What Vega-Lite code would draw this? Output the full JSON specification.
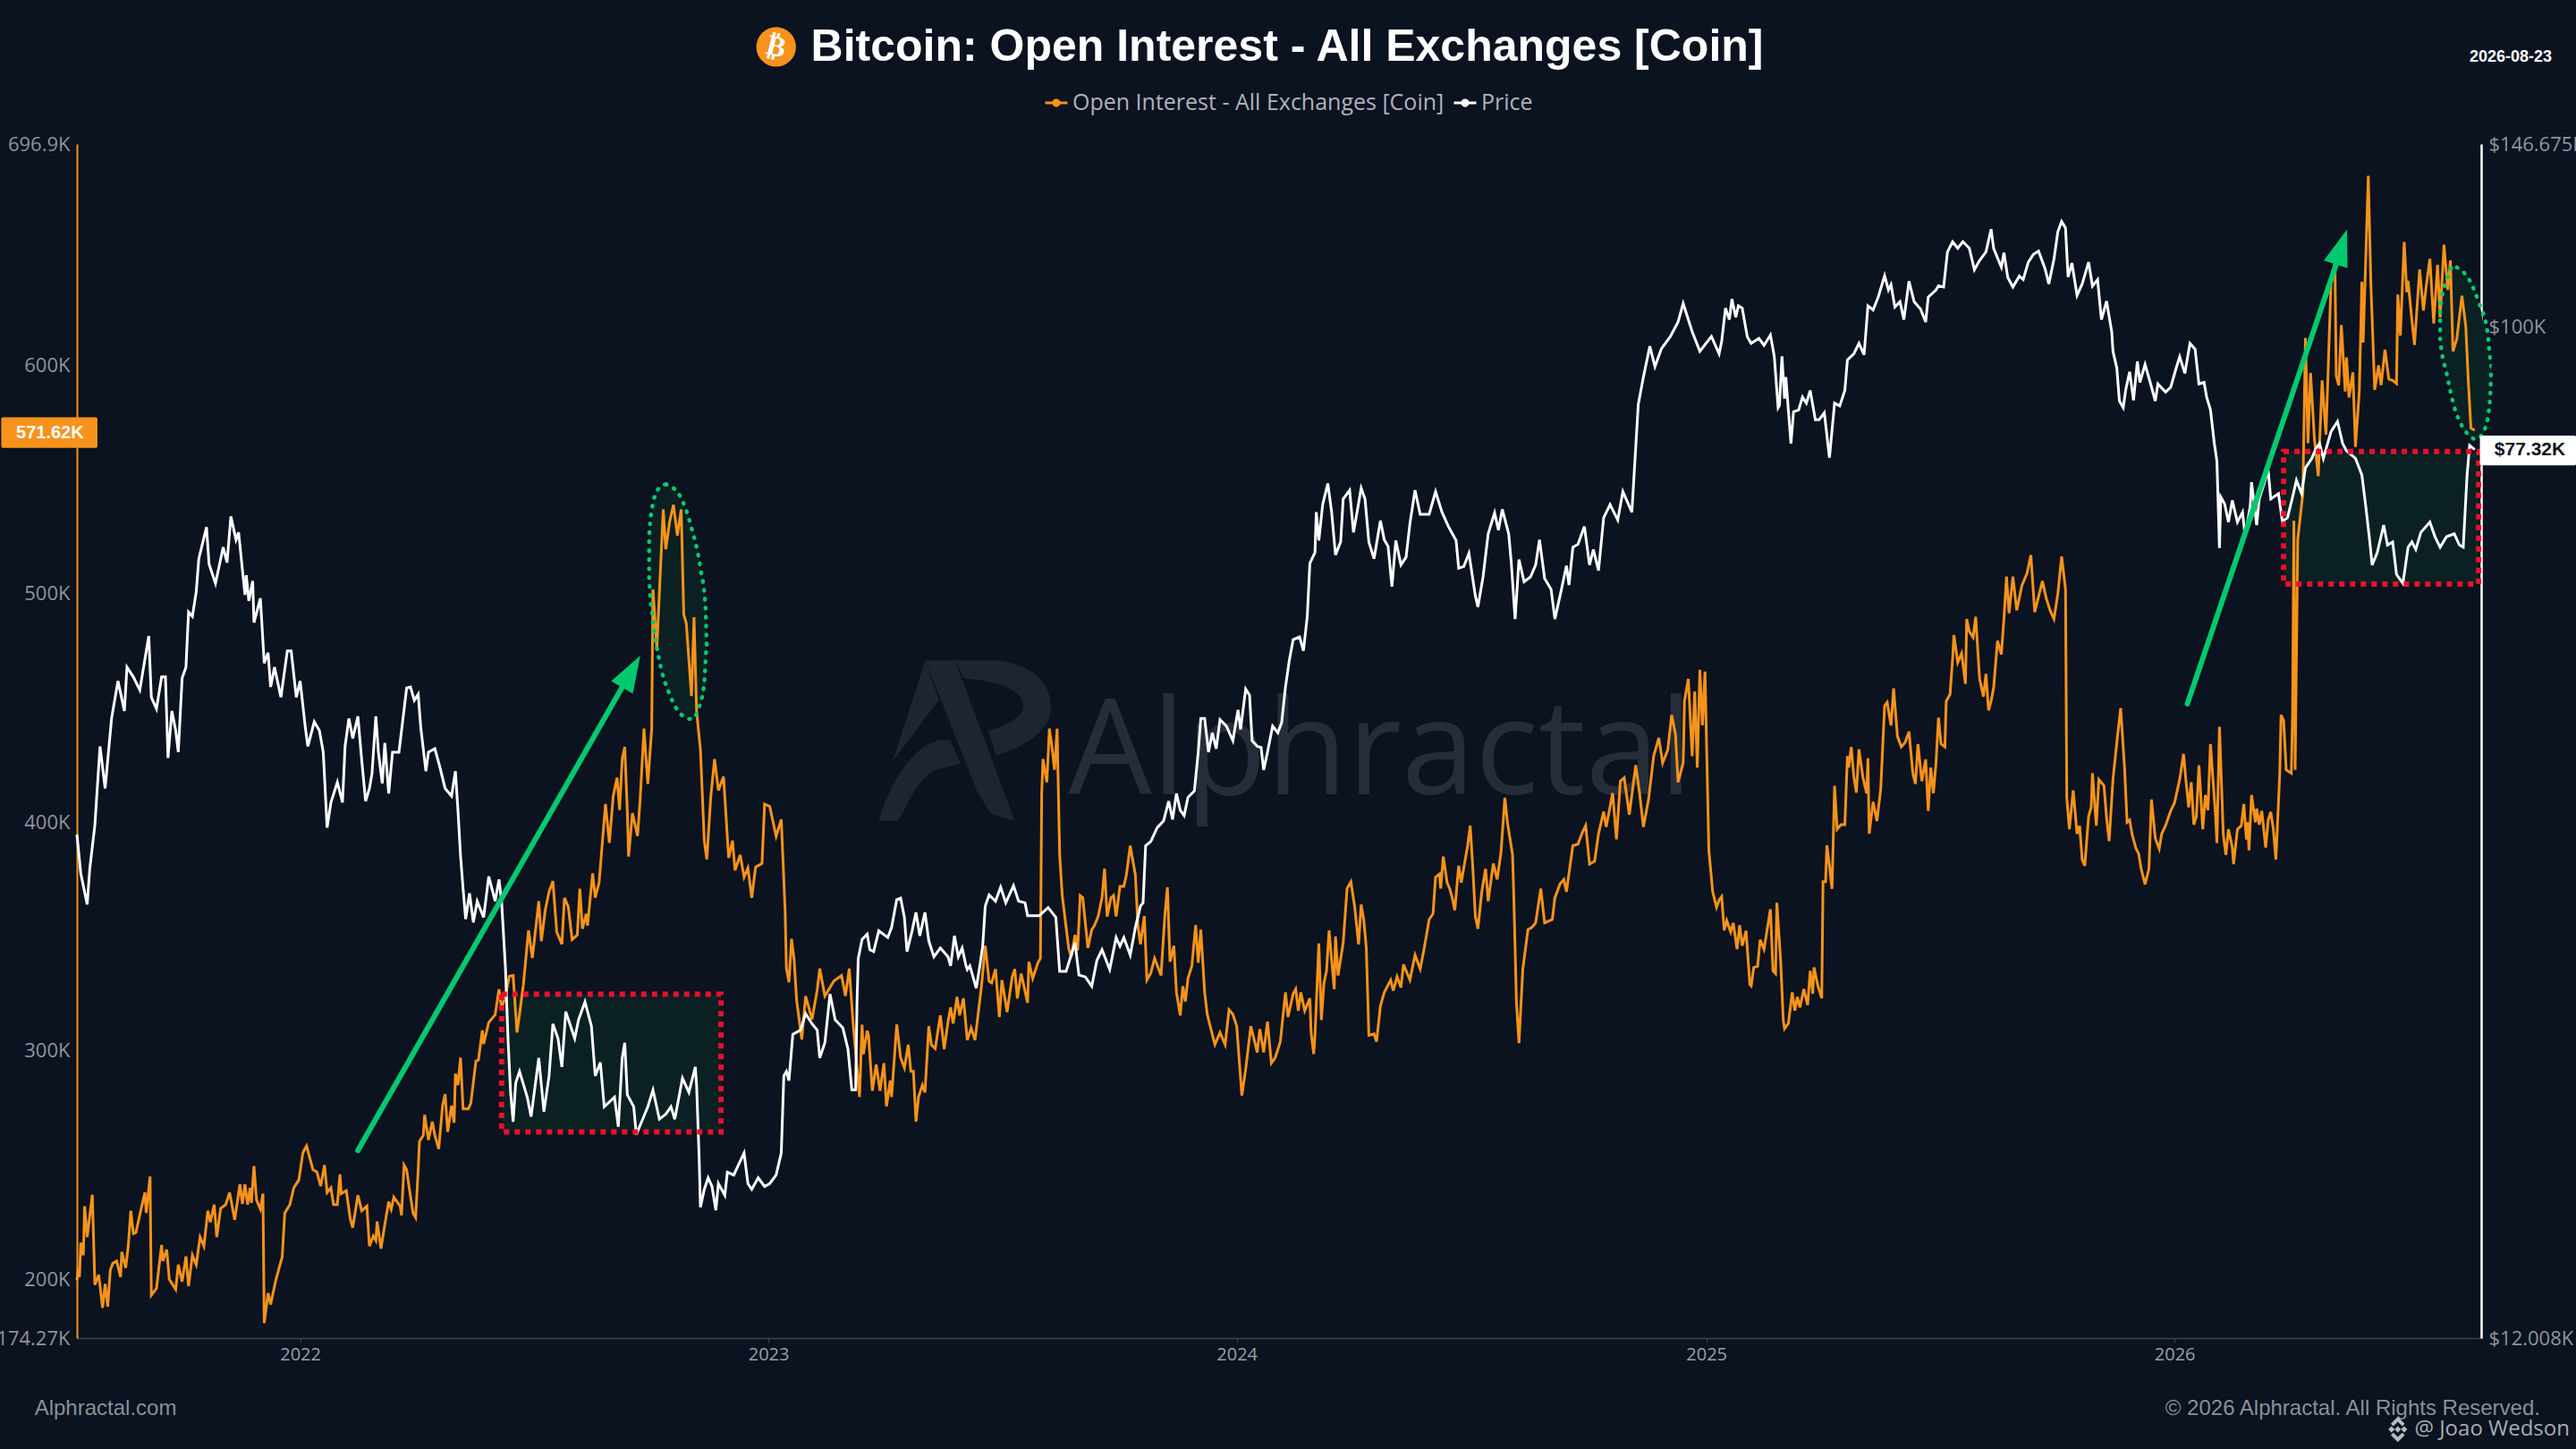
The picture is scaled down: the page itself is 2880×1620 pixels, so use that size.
{"$schema":"https://vega.github.io/schema/vega-lite/v6.json","width":2688,"height":1335,"autosize":{"type":"none"},"padding":{"left":86,"top":161,"right":106,"bottom":124},"background":"#0b1220","view":{"stroke":null},
"title":{"text":"Bitcoin: Open Interest - All Exchanges [Coin]","font":"Liberation Sans","fontWeight":"bold","fontSize":50,"color":"#ffffff","anchor":"middle","frame":"group","dx":9,"offset":-88,"baseline":"alphabetic"},
"datasets":{
"oi":[{"d":"2021-07-11","v":199.6},{"d":"2021-07-12","v":205},{"d":"2021-07-13","v":201},{"d":"2021-07-14","v":216},{"d":"2021-07-16","v":210.5},{"d":"2021-07-17","v":232},{"d":"2021-07-19","v":218.5},{"d":"2021-07-23","v":237},{"d":"2021-07-25","v":197.6},{"d":"2021-07-28","v":202},{"d":"2021-07-31","v":187.5},{"d":"2021-08-02","v":198},{"d":"2021-08-04","v":188},{"d":"2021-08-06","v":204},{"d":"2021-08-08","v":207},{"d":"2021-08-11","v":208},{"d":"2021-08-14","v":201},{"d":"2021-08-15","v":212},{"d":"2021-08-18","v":205},{"d":"2021-08-20","v":214.5},{"d":"2021-08-22","v":230},{"d":"2021-08-24","v":220},{"d":"2021-08-26","v":220.5},{"d":"2021-08-30","v":230.7},{"d":"2021-09-02","v":238},{"d":"2021-09-03","v":229},{"d":"2021-09-06","v":245},{"d":"2021-09-07","v":193},{"d":"2021-09-11","v":196},{"d":"2021-09-15","v":215},{"d":"2021-09-16","v":208},{"d":"2021-09-19","v":213},{"d":"2021-09-21","v":200},{"d":"2021-09-26","v":195.6},{"d":"2021-09-28","v":206.4},{"d":"2021-10-01","v":199},{"d":"2021-10-04","v":210},{"d":"2021-10-06","v":197},{"d":"2021-10-09","v":210.5},{"d":"2021-10-12","v":206.4},{"d":"2021-10-15","v":218.5},{"d":"2021-10-18","v":214.5},{"d":"2021-10-21","v":230},{"d":"2021-10-23","v":225},{"d":"2021-10-26","v":232.7},{"d":"2021-10-28","v":218.5},{"d":"2021-10-31","v":231},{"d":"2021-11-04","v":232.7},{"d":"2021-11-07","v":238},{"d":"2021-11-11","v":226},{"d":"2021-11-15","v":241.5},{"d":"2021-11-17","v":233},{"d":"2021-11-19","v":241.5},{"d":"2021-11-21","v":232.7},{"d":"2021-11-23","v":240},{"d":"2021-11-24","v":233.4},{"d":"2021-11-26","v":249.6},{"d":"2021-11-28","v":234.7},{"d":"2021-12-01","v":230.7},{"d":"2021-12-03","v":237.5},{"d":"2021-12-04","v":180.8},{"d":"2021-12-07","v":194},{"d":"2021-12-09","v":189},{"d":"2021-12-13","v":199.6},{"d":"2021-12-16","v":205.7},{"d":"2021-12-18","v":209.8},{"d":"2021-12-20","v":229},{"d":"2021-12-24","v":232.7},{"d":"2021-12-27","v":240},{"d":"2021-12-31","v":243.5},{"d":"2022-01-03","v":255},{"d":"2022-01-04","v":256.4},{"d":"2022-01-06","v":258.4},{"d":"2022-01-09","v":252},{"d":"2022-01-11","v":248},{"d":"2022-01-14","v":247},{"d":"2022-01-17","v":240.8},{"d":"2022-01-20","v":250},{"d":"2022-01-22","v":238},{"d":"2022-01-25","v":240},{"d":"2022-01-27","v":232.7},{"d":"2022-01-30","v":232.7},{"d":"2022-02-01","v":246},{"d":"2022-02-02","v":237.5},{"d":"2022-02-06","v":238.8},{"d":"2022-02-09","v":226.6},{"d":"2022-02-11","v":222.6},{"d":"2022-02-15","v":236.8},{"d":"2022-02-18","v":230},{"d":"2022-02-22","v":232},{"d":"2022-02-24","v":214.5},{"d":"2022-02-27","v":219},{"d":"2022-03-01","v":217},{"d":"2022-03-02","v":225.3},{"d":"2022-03-05","v":213.4},{"d":"2022-03-08","v":224},{"d":"2022-03-11","v":234},{"d":"2022-03-13","v":230.7},{"d":"2022-03-15","v":236},{"d":"2022-03-20","v":232},{"d":"2022-03-21","v":228},{"d":"2022-03-23","v":250},{"d":"2022-03-25","v":248},{"d":"2022-03-27","v":240},{"d":"2022-03-30","v":229},{"d":"2022-04-01","v":227},{"d":"2022-04-03","v":248},{"d":"2022-04-04","v":260.4},{"d":"2022-04-07","v":263},{"d":"2022-04-08","v":272},{"d":"2022-04-11","v":261},{"d":"2022-04-14","v":269},{"d":"2022-04-16","v":263},{"d":"2022-04-19","v":257},{"d":"2022-04-22","v":276},{"d":"2022-04-24","v":281},{"d":"2022-04-26","v":264.5},{"d":"2022-04-29","v":276},{"d":"2022-05-01","v":268.5},{"d":"2022-05-02","v":290},{"d":"2022-05-04","v":285},{"d":"2022-05-06","v":297},{"d":"2022-05-08","v":274.6},{"d":"2022-05-12","v":274.6},{"d":"2022-05-14","v":277},{"d":"2022-05-18","v":295.5},{"d":"2022-05-20","v":296},{"d":"2022-05-23","v":309},{"d":"2022-05-24","v":303},{"d":"2022-05-28","v":312.4},{"d":"2022-06-02","v":315.8},{"d":"2022-06-05","v":327},{"d":"2022-06-07","v":318.5},{"d":"2022-06-10","v":324},{"d":"2022-06-13","v":332.6},{"d":"2022-06-16","v":333},{"d":"2022-06-19","v":308},{"d":"2022-06-21","v":316},{"d":"2022-06-24","v":329},{"d":"2022-06-28","v":352.7},{"d":"2022-07-01","v":340.6},{"d":"2022-07-06","v":365.5},{"d":"2022-07-08","v":348},{"d":"2022-07-11","v":361.5},{"d":"2022-07-14","v":369.6},{"d":"2022-07-17","v":374.3},{"d":"2022-07-20","v":352},{"d":"2022-07-24","v":346.7},{"d":"2022-07-26","v":366.9},{"d":"2022-07-29","v":363},{"d":"2022-08-01","v":348.7},{"d":"2022-08-05","v":350.7},{"d":"2022-08-07","v":371},{"d":"2022-08-09","v":353.4},{"d":"2022-08-12","v":360},{"d":"2022-08-13","v":354.8},{"d":"2022-08-17","v":377.7},{"d":"2022-08-19","v":367},{"d":"2022-08-22","v":373.6},{"d":"2022-08-27","v":408},{"d":"2022-08-30","v":391},{"d":"2022-09-02","v":411.4},{"d":"2022-09-05","v":419.6},{"d":"2022-09-07","v":405.4},{"d":"2022-09-09","v":427.7},{"d":"2022-09-11","v":433},{"d":"2022-09-13","v":405},{"d":"2022-09-14","v":385},{"d":"2022-09-17","v":404},{"d":"2022-09-21","v":394},{"d":"2022-09-23","v":410},{"d":"2022-09-26","v":441},{"d":"2022-09-29","v":416.8},{"d":"2022-10-02","v":441},{"d":"2022-10-03","v":502},{"d":"2022-10-06","v":476},{"d":"2022-10-11","v":537},{"d":"2022-10-13","v":519.5},{"d":"2022-10-16","v":531.6},{"d":"2022-10-19","v":539},{"d":"2022-10-22","v":525.5},{"d":"2022-10-25","v":537},{"d":"2022-10-27","v":491},{"d":"2022-10-29","v":487},{"d":"2022-11-02","v":455.3},{"d":"2022-11-04","v":489.8},{"d":"2022-11-06","v":448.6},{"d":"2022-11-09","v":431.7},{"d":"2022-11-12","v":391.9},{"d":"2022-11-14","v":383.8},{"d":"2022-11-17","v":410.8},{"d":"2022-11-20","v":427.7},{"d":"2022-11-23","v":414},{"d":"2022-11-27","v":420},{"d":"2022-12-01","v":384.4},{"d":"2022-12-04","v":392},{"d":"2022-12-06","v":379},{"d":"2022-12-10","v":385.8},{"d":"2022-12-13","v":376},{"d":"2022-12-16","v":380},{"d":"2022-12-19","v":367},{"d":"2022-12-22","v":380.4},{"d":"2022-12-27","v":382},{"d":"2022-12-29","v":408},{"d":"2023-01-02","v":407},{"d":"2023-01-07","v":393.9},{"d":"2023-01-11","v":401.3},{"d":"2023-01-14","v":361.5},{"d":"2023-01-15","v":336},{"d":"2023-01-17","v":330},{"d":"2023-01-19","v":349},{"d":"2023-01-21","v":340},{"d":"2023-01-23","v":322},{"d":"2023-01-27","v":305},{"d":"2023-01-30","v":324},{"d":"2023-02-04","v":313.7},{"d":"2023-02-08","v":326.6},{"d":"2023-02-10","v":336},{"d":"2023-02-14","v":324},{"d":"2023-02-21","v":330.6},{"d":"2023-02-27","v":333},{"d":"2023-03-02","v":324},{"d":"2023-03-05","v":336},{"d":"2023-03-08","v":312},{"d":"2023-03-13","v":279.8},{"d":"2023-03-15","v":311.5},{"d":"2023-03-16","v":298.6},{"d":"2023-03-19","v":308.8},{"d":"2023-03-20","v":306.8},{"d":"2023-03-23","v":282.5},{"d":"2023-03-26","v":294},{"d":"2023-03-29","v":282.5},{"d":"2023-04-01","v":294.6},{"d":"2023-04-03","v":275.7},{"d":"2023-04-06","v":287},{"d":"2023-04-07","v":279.8},{"d":"2023-04-11","v":311.5},{"d":"2023-04-14","v":297},{"d":"2023-04-17","v":292.6},{"d":"2023-04-20","v":302.7},{"d":"2023-04-22","v":291},{"d":"2023-04-24","v":291},{"d":"2023-04-26","v":269},{"d":"2023-04-28","v":279.8},{"d":"2023-05-01","v":285},{"d":"2023-05-03","v":281.8},{"d":"2023-05-06","v":310.8},{"d":"2023-05-08","v":302.7},{"d":"2023-05-11","v":301},{"d":"2023-05-14","v":312},{"d":"2023-05-15","v":315.5},{"d":"2023-05-18","v":300.7},{"d":"2023-05-21","v":312.8},{"d":"2023-05-23","v":319},{"d":"2023-05-25","v":312},{"d":"2023-05-28","v":323.6},{"d":"2023-05-30","v":315.5},{"d":"2023-06-02","v":323},{"d":"2023-06-05","v":304.7},{"d":"2023-06-08","v":310},{"d":"2023-06-11","v":304.7},{"d":"2023-06-16","v":328},{"d":"2023-06-19","v":346},{"d":"2023-06-22","v":330.4},{"d":"2023-06-24","v":329.7},{"d":"2023-06-27","v":335.8},{"d":"2023-06-30","v":314.8},{"d":"2023-07-02","v":331},{"d":"2023-07-06","v":317},{"d":"2023-07-10","v":332.4},{"d":"2023-07-12","v":335.8},{"d":"2023-07-14","v":322.9},{"d":"2023-07-17","v":333.8},{"d":"2023-07-22","v":321},{"d":"2023-07-23","v":339},{"d":"2023-07-26","v":331.7},{"d":"2023-07-30","v":338.5},{"d":"2023-08-01","v":340.5},{"d":"2023-08-02","v":412.8},{"d":"2023-08-03","v":427.7},{"d":"2023-08-06","v":417.5},{"d":"2023-08-08","v":441},{"d":"2023-08-10","v":433},{"d":"2023-08-12","v":423},{"d":"2023-08-14","v":441},{"d":"2023-08-16","v":385.8},{"d":"2023-08-18","v":368},{"d":"2023-08-20","v":358.8},{"d":"2023-08-23","v":345},{"d":"2023-08-25","v":341},{"d":"2023-08-28","v":350.7},{"d":"2023-08-30","v":344},{"d":"2023-09-01","v":368},{"d":"2023-09-03","v":367},{"d":"2023-09-07","v":345},{"d":"2023-09-10","v":353},{"d":"2023-09-12","v":354.7},{"d":"2023-09-15","v":358.8},{"d":"2023-09-18","v":367},{"d":"2023-09-20","v":379.7},{"d":"2023-09-22","v":358.8},{"d":"2023-09-25","v":367},{"d":"2023-09-27","v":368},{"d":"2023-09-29","v":358.8},{"d":"2023-10-02","v":372},{"d":"2023-10-05","v":372},{"d":"2023-10-07","v":377},{"d":"2023-10-10","v":389.8},{"d":"2023-10-14","v":377},{"d":"2023-10-16","v":354.7},{"d":"2023-10-18","v":346.6},{"d":"2023-10-21","v":359},{"d":"2023-10-23","v":331},{"d":"2023-10-26","v":334},{"d":"2023-10-29","v":340.5},{"d":"2023-11-03","v":333},{"d":"2023-11-06","v":359.4},{"d":"2023-11-08","v":371.6},{"d":"2023-11-10","v":339},{"d":"2023-11-13","v":346},{"d":"2023-11-15","v":325.6},{"d":"2023-11-18","v":315.5},{"d":"2023-11-20","v":328.3},{"d":"2023-11-22","v":321.6},{"d":"2023-11-24","v":331.7},{"d":"2023-11-27","v":337},{"d":"2023-11-30","v":355},{"d":"2023-12-02","v":338.5},{"d":"2023-12-04","v":353},{"d":"2023-12-07","v":325.6},{"d":"2023-12-09","v":316},{"d":"2023-12-11","v":311.5},{"d":"2023-12-15","v":302.7},{"d":"2023-12-19","v":308},{"d":"2023-12-23","v":302.7},{"d":"2023-12-26","v":318},{"d":"2023-12-29","v":316},{"d":"2024-01-01","v":310.8},{"d":"2024-01-05","v":280.4},{"d":"2024-01-08","v":292},{"d":"2024-01-12","v":310.8},{"d":"2024-01-17","v":299.3},{"d":"2024-01-19","v":309.5},{"d":"2024-01-22","v":299.3},{"d":"2024-01-25","v":312.8},{"d":"2024-01-28","v":294.6},{"d":"2024-01-31","v":297},{"d":"2024-02-04","v":304},{"d":"2024-02-08","v":325.6},{"d":"2024-02-10","v":314.8},{"d":"2024-02-14","v":325},{"d":"2024-02-16","v":327},{"d":"2024-02-18","v":317.5},{"d":"2024-02-20","v":325.6},{"d":"2024-02-23","v":317.5},{"d":"2024-02-27","v":323},{"d":"2024-02-28","v":308},{"d":"2024-03-01","v":298.6},{"d":"2024-03-02","v":306.8},{"d":"2024-03-05","v":347},{"d":"2024-03-07","v":313.5},{"d":"2024-03-09","v":329.7},{"d":"2024-03-11","v":335},{"d":"2024-03-13","v":352.7},{"d":"2024-03-17","v":327},{"d":"2024-03-18","v":350},{"d":"2024-03-20","v":333},{"d":"2024-03-24","v":347.3},{"d":"2024-03-27","v":371},{"d":"2024-03-30","v":374},{"d":"2024-04-02","v":362.8},{"d":"2024-04-05","v":346.6},{"d":"2024-04-07","v":364},{"d":"2024-04-09","v":357.5},{"d":"2024-04-11","v":345},{"d":"2024-04-13","v":306.8},{"d":"2024-04-17","v":307.4},{"d":"2024-04-19","v":304},{"d":"2024-04-22","v":319.6},{"d":"2024-04-25","v":325.6},{"d":"2024-04-30","v":331},{"d":"2024-05-02","v":326.3},{"d":"2024-05-05","v":332.4},{"d":"2024-05-08","v":327.7},{"d":"2024-05-10","v":337.8},{"d":"2024-05-15","v":331},{"d":"2024-05-19","v":341.9},{"d":"2024-05-23","v":335.8},{"d":"2024-05-26","v":344.5},{"d":"2024-05-30","v":357.5},{"d":"2024-06-02","v":360},{"d":"2024-06-04","v":376},{"d":"2024-06-07","v":377.4},{"d":"2024-06-08","v":371},{"d":"2024-06-10","v":385},{"d":"2024-06-13","v":373.6},{"d":"2024-06-15","v":371},{"d":"2024-06-17","v":367},{"d":"2024-06-19","v":361.5},{"d":"2024-06-22","v":381},{"d":"2024-06-24","v":373.6},{"d":"2024-06-29","v":389.8},{"d":"2024-07-01","v":398.6},{"d":"2024-07-03","v":380.4},{"d":"2024-07-05","v":358.8},{"d":"2024-07-07","v":353.4},{"d":"2024-07-10","v":369.6},{"d":"2024-07-13","v":379.7},{"d":"2024-07-15","v":365.5},{"d":"2024-07-19","v":382},{"d":"2024-07-22","v":375},{"d":"2024-07-25","v":387},{"d":"2024-07-28","v":410.8},{"d":"2024-07-30","v":400},{"d":"2024-08-03","v":385.8},{"d":"2024-08-04","v":367},{"d":"2024-08-06","v":321.6},{"d":"2024-08-08","v":303.4},{"d":"2024-08-11","v":335.8},{"d":"2024-08-15","v":353},{"d":"2024-08-18","v":354},{"d":"2024-08-21","v":356},{"d":"2024-08-25","v":371},{"d":"2024-08-28","v":356},{"d":"2024-09-03","v":357.5},{"d":"2024-09-05","v":367},{"d":"2024-09-09","v":373},{"d":"2024-09-12","v":375},{"d":"2024-09-14","v":369.6},{"d":"2024-09-16","v":377.7},{"d":"2024-09-19","v":389.8},{"d":"2024-09-23","v":390.5},{"d":"2024-09-26","v":395},{"d":"2024-09-29","v":398.6},{"d":"2024-10-02","v":381.7},{"d":"2024-10-06","v":383},{"d":"2024-10-09","v":395},{"d":"2024-10-13","v":404.7},{"d":"2024-10-15","v":398},{"d":"2024-10-20","v":412.8},{"d":"2024-10-23","v":392.6},{"d":"2024-10-26","v":418},{"d":"2024-10-29","v":419.5},{"d":"2024-11-02","v":403.4},{"d":"2024-11-07","v":425},{"d":"2024-11-10","v":412.8},{"d":"2024-11-13","v":398},{"d":"2024-11-17","v":410},{"d":"2024-11-21","v":429},{"d":"2024-11-25","v":437},{"d":"2024-11-28","v":426},{"d":"2024-12-02","v":431.7},{"d":"2024-12-05","v":447},{"d":"2024-12-08","v":438.4},{"d":"2024-12-10","v":417.5},{"d":"2024-12-14","v":426},{"d":"2024-12-15","v":453},{"d":"2024-12-18","v":462.8},{"d":"2024-12-21","v":429},{"d":"2024-12-23","v":457.3},{"d":"2024-12-25","v":424},{"d":"2024-12-27","v":466.8},{"d":"2024-12-29","v":442.5},{"d":"2024-12-31","v":466},{"d":"2025-01-03","v":387.8},{"d":"2025-01-06","v":369.6},{"d":"2025-01-09","v":362.8},{"d":"2025-01-11","v":366},{"d":"2025-01-13","v":367.5},{"d":"2025-01-15","v":352.7},{"d":"2025-01-17","v":357},{"d":"2025-01-20","v":352},{"d":"2025-01-22","v":356},{"d":"2025-01-25","v":344.5},{"d":"2025-01-27","v":355},{"d":"2025-01-29","v":346},{"d":"2025-02-01","v":352.5},{"d":"2025-02-04","v":329},{"d":"2025-02-05","v":328.4},{"d":"2025-02-07","v":336.5},{"d":"2025-02-10","v":337},{"d":"2025-02-12","v":348.6},{"d":"2025-02-15","v":344.5},{"d":"2025-02-20","v":362},{"d":"2025-02-22","v":335},{"d":"2025-02-24","v":333.8},{"d":"2025-02-25","v":364.8},{"d":"2025-02-28","v":339},{"d":"2025-03-02","v":313.5},{"d":"2025-03-03","v":309.7},{"d":"2025-03-06","v":312},{"d":"2025-03-09","v":325.6},{"d":"2025-03-11","v":317.6},{"d":"2025-03-13","v":323.6},{"d":"2025-03-15","v":319},{"d":"2025-03-18","v":327},{"d":"2025-03-21","v":320},{"d":"2025-03-23","v":335},{"d":"2025-03-25","v":325},{"d":"2025-03-26","v":336.5},{"d":"2025-03-29","v":328.4},{"d":"2025-04-01","v":323},{"d":"2025-04-02","v":374},{"d":"2025-04-04","v":374},{"d":"2025-04-05","v":390},{"d":"2025-04-07","v":381},{"d":"2025-04-09","v":370.9},{"d":"2025-04-11","v":416},{"d":"2025-04-13","v":397},{"d":"2025-04-16","v":399},{"d":"2025-04-19","v":399},{"d":"2025-04-21","v":429},{"d":"2025-04-22","v":424},{"d":"2025-04-24","v":433},{"d":"2025-04-26","v":420},{"d":"2025-04-28","v":413},{"d":"2025-04-30","v":432},{"d":"2025-05-03","v":420},{"d":"2025-05-06","v":412.7},{"d":"2025-05-07","v":428},{"d":"2025-05-08","v":395},{"d":"2025-05-11","v":409},{"d":"2025-05-14","v":400.6},{"d":"2025-05-17","v":414.8},{"d":"2025-05-20","v":451},{"d":"2025-05-22","v":452.5},{"d":"2025-05-25","v":442.4},{"d":"2025-05-27","v":458.6},{"d":"2025-05-30","v":437.7},{"d":"2025-06-02","v":433},{"d":"2025-06-05","v":435},{"d":"2025-06-08","v":439.7},{"d":"2025-06-11","v":421.5},{"d":"2025-06-13","v":416.8},{"d":"2025-06-15","v":434.3},{"d":"2025-06-18","v":418},{"d":"2025-06-21","v":427.6},{"d":"2025-06-23","v":405},{"d":"2025-06-25","v":424},{"d":"2025-06-27","v":412.7},{"d":"2025-06-29","v":425.5},{"d":"2025-07-01","v":445.8},{"d":"2025-07-03","v":434.3},{"d":"2025-07-06","v":433},{"d":"2025-07-07","v":453},{"d":"2025-07-10","v":456},{"d":"2025-07-12","v":471.5},{"d":"2025-07-13","v":482},{"d":"2025-07-16","v":470},{"d":"2025-07-19","v":474},{"d":"2025-07-22","v":460.6},{"d":"2025-07-23","v":489},{"d":"2025-07-25","v":483.6},{"d":"2025-07-28","v":481},{"d":"2025-07-30","v":490},{"d":"2025-08-02","v":463},{"d":"2025-08-05","v":455},{"d":"2025-08-07","v":465},{"d":"2025-08-09","v":449},{"d":"2025-08-11","v":453},{"d":"2025-08-13","v":459},{"d":"2025-08-16","v":479.5},{"d":"2025-08-19","v":473.5},{"d":"2025-08-21","v":489},{"d":"2025-08-23","v":507.6},{"d":"2025-08-25","v":491.5},{"d":"2025-08-28","v":507.6},{"d":"2025-08-31","v":492.8},{"d":"2025-09-04","v":503.6},{"d":"2025-09-08","v":509},{"d":"2025-09-11","v":517},{"d":"2025-09-14","v":492},{"d":"2025-09-20","v":505.6},{"d":"2025-09-23","v":498},{"d":"2025-09-26","v":492.8},{"d":"2025-09-29","v":489},{"d":"2025-10-02","v":500},{"d":"2025-10-05","v":516.4},{"d":"2025-10-08","v":502},{"d":"2025-10-09","v":410.7},{"d":"2025-10-11","v":397},{"d":"2025-10-14","v":414},{"d":"2025-10-17","v":395},{"d":"2025-10-19","v":398.5},{"d":"2025-10-21","v":383.7},{"d":"2025-10-23","v":381},{"d":"2025-10-26","v":402.6},{"d":"2025-10-28","v":406.6},{"d":"2025-10-29","v":421.5},{"d":"2025-11-01","v":398.5},{"d":"2025-11-03","v":418.8},{"d":"2025-11-07","v":416},{"d":"2025-11-09","v":402},{"d":"2025-11-11","v":391.8},{"d":"2025-11-14","v":418.8},{"d":"2025-11-17","v":435},{"d":"2025-11-20","v":450},{"d":"2025-11-23","v":424},{"d":"2025-11-25","v":400},{"d":"2025-11-27","v":401},{"d":"2025-11-29","v":394.5},{"d":"2025-12-02","v":388.4},{"d":"2025-12-04","v":386.4},{"d":"2025-12-06","v":379.6},{"d":"2025-12-09","v":372.9},{"d":"2025-12-12","v":379.6},{"d":"2025-12-14","v":410},{"d":"2025-12-17","v":393},{"d":"2025-12-20","v":388.4},{"d":"2025-12-22","v":395},{"d":"2025-12-25","v":398.6},{"d":"2025-12-29","v":405},{"d":"2026-01-01","v":408.6},{"d":"2026-01-05","v":418.8},{"d":"2026-01-08","v":430},{"d":"2026-01-10","v":417.5},{"d":"2026-01-12","v":406.6},{"d":"2026-01-14","v":417.5},{"d":"2026-01-16","v":399},{"d":"2026-01-18","v":402.6},{"d":"2026-01-20","v":425},{"d":"2026-01-23","v":397},{"d":"2026-01-25","v":412},{"d":"2026-01-27","v":405.3},{"d":"2026-01-29","v":434.3},{"d":"2026-02-02","v":402.6},{"d":"2026-02-03","v":391},{"d":"2026-02-05","v":441.8},{"d":"2026-02-08","v":394.5},{"d":"2026-02-10","v":385.7},{"d":"2026-02-12","v":397},{"d":"2026-02-15","v":389},{"d":"2026-02-16","v":381.7},{"d":"2026-02-19","v":397},{"d":"2026-02-22","v":398.5},{"d":"2026-02-24","v":408},{"d":"2026-02-26","v":392.5},{"d":"2026-02-27","v":400},{"d":"2026-02-28","v":387.8},{"d":"2026-03-02","v":412},{"d":"2026-03-05","v":400},{"d":"2026-03-06","v":406},{"d":"2026-03-08","v":399},{"d":"2026-03-10","v":405},{"d":"2026-03-13","v":389},{"d":"2026-03-15","v":401},{"d":"2026-03-17","v":404.6},{"d":"2026-03-19","v":397},{"d":"2026-03-21","v":383.7},{"d":"2026-03-24","v":421.5},{"d":"2026-03-25","v":447},{"d":"2026-03-27","v":444.5},{"d":"2026-03-29","v":423},{"d":"2026-04-02","v":421.5},{"d":"2026-04-03","v":448},{"d":"2026-04-04","v":532},{"d":"2026-04-05","v":423},{"d":"2026-04-07","v":523.8},{"d":"2026-04-11","v":544},{"d":"2026-04-13","v":612},{"d":"2026-04-15","v":566},{"d":"2026-04-17","v":596.7},{"d":"2026-04-20","v":568},{"d":"2026-04-23","v":551.5},{"d":"2026-04-26","v":593.4},{"d":"2026-04-29","v":569.7},{"d":"2026-05-01","v":602.8},{"d":"2026-05-03","v":637.2},{"d":"2026-05-06","v":645},{"d":"2026-05-07","v":595.4},{"d":"2026-05-09","v":591.3},{"d":"2026-05-11","v":617.7},{"d":"2026-05-14","v":588.6},{"d":"2026-05-15","v":603.5},{"d":"2026-05-17","v":586},{"d":"2026-05-20","v":597},{"d":"2026-05-22","v":564.3},{"d":"2026-05-25","v":588.6},{"d":"2026-05-27","v":636.6},{"d":"2026-05-28","v":610},{"d":"2026-06-01","v":683},{"d":"2026-06-03","v":636},{"d":"2026-06-06","v":589.3},{"d":"2026-06-09","v":600},{"d":"2026-06-11","v":591.4},{"d":"2026-06-14","v":606.9},{"d":"2026-06-17","v":594},{"d":"2026-06-20","v":593.4},{"d":"2026-06-23","v":592},{"d":"2026-06-24","v":631},{"d":"2026-06-26","v":613},{"d":"2026-06-29","v":654},{"d":"2026-07-01","v":632},{"d":"2026-07-02","v":637},{"d":"2026-07-05","v":619.7},{"d":"2026-07-07","v":609},{"d":"2026-07-11","v":642},{"d":"2026-07-14","v":624},{"d":"2026-07-16","v":634},{"d":"2026-07-19","v":646.7},{"d":"2026-07-22","v":618.3},{"d":"2026-07-25","v":644},{"d":"2026-07-27","v":621},{"d":"2026-07-30","v":652.8},{"d":"2026-08-02","v":633},{"d":"2026-08-04","v":646},{"d":"2026-08-06","v":606.2},{"d":"2026-08-09","v":611.6},{"d":"2026-08-13","v":630.5},{"d":"2026-08-16","v":617},{"d":"2026-08-18","v":592.7},{"d":"2026-08-20","v":572.5},{"d":"2026-08-23","v":571.62}],
"price":[{"d":"2021-07-11","v":34.5},{"d":"2021-07-14","v":31.8},{"d":"2021-07-19","v":29.8},{"d":"2021-07-21","v":32.1},{"d":"2021-07-25","v":35.2},{"d":"2021-07-29","v":41.5},{"d":"2021-08-02","v":38},{"d":"2021-08-07","v":44},{"d":"2021-08-12","v":47.6},{"d":"2021-08-17","v":44.7},{"d":"2021-08-19","v":49},{"d":"2021-08-24","v":48},{"d":"2021-08-29","v":46.7},{"d":"2021-09-05","v":52.3},{"d":"2021-09-07","v":46},{"d":"2021-09-11","v":44.9},{"d":"2021-09-15","v":48},{"d":"2021-09-18","v":48},{"d":"2021-09-20","v":40.5},{"d":"2021-09-23","v":44.7},{"d":"2021-09-26","v":42.9},{"d":"2021-09-28","v":41},{"d":"2021-10-01","v":47.9},{"d":"2021-10-04","v":49},{"d":"2021-10-06","v":55},{"d":"2021-10-09","v":54.5},{"d":"2021-10-12","v":57.4},{"d":"2021-10-14","v":61.5},{"d":"2021-10-20","v":65.7},{"d":"2021-10-22","v":60.8},{"d":"2021-10-27","v":58.4},{"d":"2021-11-02","v":63},{"d":"2021-11-05","v":61},{"d":"2021-11-08","v":67.2},{"d":"2021-11-12","v":64},{"d":"2021-11-14","v":65},{"d":"2021-11-19","v":57},{"d":"2021-11-20","v":59.4},{"d":"2021-11-22","v":56.3},{"d":"2021-11-25","v":58.7},{"d":"2021-11-26","v":53.8},{"d":"2021-12-01","v":56.6},{"d":"2021-12-04","v":49.4},{"d":"2021-12-07","v":50.5},{"d":"2021-12-09","v":47},{"d":"2021-12-12","v":49},{"d":"2021-12-17","v":46},{"d":"2021-12-22","v":50.7},{"d":"2021-12-25","v":50.7},{"d":"2021-12-29","v":46},{"d":"2022-01-01","v":47.6},{"d":"2022-01-05","v":43.2},{"d":"2022-01-07","v":41.5},{"d":"2022-01-12","v":43.7},{"d":"2022-01-16","v":42.9},{"d":"2022-01-19","v":41},{"d":"2022-01-22","v":35},{"d":"2022-01-25","v":36.9},{"d":"2022-01-30","v":38.5},{"d":"2022-02-03","v":36.9},{"d":"2022-02-05","v":41.5},{"d":"2022-02-08","v":44},{"d":"2022-02-11","v":42.2},{"d":"2022-02-15","v":44.2},{"d":"2022-02-18","v":40.3},{"d":"2022-02-21","v":37},{"d":"2022-02-24","v":38},{"d":"2022-02-26","v":39.2},{"d":"2022-03-01","v":44.2},{"d":"2022-03-03","v":41},{"d":"2022-03-06","v":38.4},{"d":"2022-03-08","v":41.8},{"d":"2022-03-11","v":37.6},{"d":"2022-03-14","v":41},{"d":"2022-03-19","v":41},{"d":"2022-03-25","v":46.9},{"d":"2022-03-28","v":47},{"d":"2022-03-31","v":45.7},{"d":"2022-04-03","v":46.3},{"d":"2022-04-05","v":43.2},{"d":"2022-04-09","v":39.4},{"d":"2022-04-11","v":41},{"d":"2022-04-16","v":41.3},{"d":"2022-04-20","v":39.7},{"d":"2022-04-24","v":38},{"d":"2022-04-29","v":37.4},{"d":"2022-05-02","v":39.4},{"d":"2022-05-04","v":36.3},{"d":"2022-05-06","v":33},{"d":"2022-05-08","v":30.8},{"d":"2022-05-10","v":28.9},{"d":"2022-05-13","v":30.5},{"d":"2022-05-16","v":28.7},{"d":"2022-05-19","v":30},{"d":"2022-05-24","v":29},{"d":"2022-05-28","v":31.6},{"d":"2022-06-02","v":30},{"d":"2022-06-05","v":31.4},{"d":"2022-06-07","v":30},{"d":"2022-06-10","v":26.1},{"d":"2022-06-12","v":22.5},{"d":"2022-06-14","v":20.1},{"d":"2022-06-16","v":18.9},{"d":"2022-06-18","v":20.5},{"d":"2022-06-21","v":21},{"d":"2022-06-27","v":19.9},{"d":"2022-06-30","v":19.1},{"d":"2022-07-06","v":21.6},{"d":"2022-07-10","v":19.3},{"d":"2022-07-14","v":20.8},{"d":"2022-07-17","v":23.2},{"d":"2022-07-21","v":22.5},{"d":"2022-07-24","v":21.2},{"d":"2022-07-27","v":23.8},{"d":"2022-08-03","v":22.5},{"d":"2022-08-06","v":23.4},{"d":"2022-08-11","v":24.3},{"d":"2022-08-16","v":23.1},{"d":"2022-08-19","v":20.8},{"d":"2022-08-23","v":21.4},{"d":"2022-08-26","v":19.5},{"d":"2022-09-03","v":19.9},{"d":"2022-09-06","v":18.7},{"d":"2022-09-09","v":21.6},{"d":"2022-09-11","v":22.3},{"d":"2022-09-13","v":20},{"d":"2022-09-18","v":19.5},{"d":"2022-09-20","v":18.4},{"d":"2022-09-25","v":19},{"d":"2022-09-29","v":19.5},{"d":"2022-10-03","v":20.2},{"d":"2022-10-08","v":19},{"d":"2022-10-13","v":19.2},{"d":"2022-10-17","v":19.5},{"d":"2022-10-20","v":19},{"d":"2022-10-26","v":20.7},{"d":"2022-10-31","v":20.1},{"d":"2022-11-05","v":21.2},{"d":"2022-11-06","v":20.4},{"d":"2022-11-08","v":17.5},{"d":"2022-11-09","v":15.8},{"d":"2022-11-12","v":16.4},{"d":"2022-11-15","v":16.8},{"d":"2022-11-18","v":16.5},{"d":"2022-11-21","v":15.7},{"d":"2022-11-23","v":16.6},{"d":"2022-11-28","v":16.2},{"d":"2022-11-30","v":17},{"d":"2022-12-05","v":16.9},{"d":"2022-12-07","v":17.1},{"d":"2022-12-13","v":17.7},{"d":"2022-12-16","v":16.6},{"d":"2022-12-19","v":16.4},{"d":"2022-12-24","v":16.8},{"d":"2022-12-29","v":16.5},{"d":"2023-01-02","v":16.6},{"d":"2023-01-07","v":16.9},{"d":"2023-01-11","v":17.7},{"d":"2023-01-13","v":20.8},{"d":"2023-01-15","v":21},{"d":"2023-01-17","v":20.6},{"d":"2023-01-20","v":22.7},{"d":"2023-01-26","v":22.9},{"d":"2023-01-30","v":23.7},{"d":"2023-02-04","v":23.2},{"d":"2023-02-08","v":22.9},{"d":"2023-02-10","v":21.6},{"d":"2023-02-14","v":22.3},{"d":"2023-02-18","v":24.7},{"d":"2023-02-22","v":23.4},{"d":"2023-02-28","v":23},{"d":"2023-03-04","v":22},{"d":"2023-03-07","v":20.2},{"d":"2023-03-10","v":20.2},{"d":"2023-03-11","v":24.2},{"d":"2023-03-12","v":26.6},{"d":"2023-03-15","v":27.7},{"d":"2023-03-19","v":28},{"d":"2023-03-21","v":27.1},{"d":"2023-03-24","v":27},{"d":"2023-03-28","v":28.2},{"d":"2023-04-04","v":27.8},{"d":"2023-04-07","v":28.4},{"d":"2023-04-11","v":30.1},{"d":"2023-04-14","v":30.2},{"d":"2023-04-17","v":29},{"d":"2023-04-19","v":27},{"d":"2023-04-23","v":28.2},{"d":"2023-04-26","v":29.3},{"d":"2023-04-29","v":27.9},{"d":"2023-05-03","v":29.3},{"d":"2023-05-06","v":27.6},{"d":"2023-05-10","v":26.7},{"d":"2023-05-15","v":27.2},{"d":"2023-05-21","v":26.7},{"d":"2023-05-23","v":26.2},{"d":"2023-05-26","v":27.9},{"d":"2023-05-29","v":26.7},{"d":"2023-06-01","v":27.2},{"d":"2023-06-04","v":26.2},{"d":"2023-06-05","v":26},{"d":"2023-06-07","v":26.2},{"d":"2023-06-12","v":25},{"d":"2023-06-15","v":26.3},{"d":"2023-06-17","v":27.3},{"d":"2023-06-19","v":29.7},{"d":"2023-06-22","v":30.4},{"d":"2023-06-27","v":30},{"d":"2023-07-01","v":30.9},{"d":"2023-07-05","v":29.9},{"d":"2023-07-11","v":31},{"d":"2023-07-15","v":30},{"d":"2023-07-20","v":29.9},{"d":"2023-07-22","v":29.1},{"d":"2023-07-31","v":29.1},{"d":"2023-08-07","v":29.6},{"d":"2023-08-13","v":29},{"d":"2023-08-16","v":25.9},{"d":"2023-08-21","v":25.9},{"d":"2023-08-28","v":27.5},{"d":"2023-08-31","v":25.7},{"d":"2023-09-05","v":25.6},{"d":"2023-09-10","v":25.1},{"d":"2023-09-14","v":26.5},{"d":"2023-09-18","v":27.1},{"d":"2023-09-24","v":26},{"d":"2023-09-29","v":27.8},{"d":"2023-10-02","v":27.3},{"d":"2023-10-05","v":27.8},{"d":"2023-10-10","v":26.8},{"d":"2023-10-14","v":28.4},{"d":"2023-10-18","v":29.7},{"d":"2023-10-20","v":29.9},{"d":"2023-10-22","v":33.7},{"d":"2023-10-26","v":34},{"d":"2023-10-31","v":35},{"d":"2023-11-05","v":35.5},{"d":"2023-11-09","v":37},{"d":"2023-11-12","v":35.6},{"d":"2023-11-15","v":37.6},{"d":"2023-11-18","v":36.3},{"d":"2023-11-21","v":35.9},{"d":"2023-11-24","v":37.3},{"d":"2023-11-29","v":37.8},{"d":"2023-12-02","v":41},{"d":"2023-12-04","v":44},{"d":"2023-12-07","v":44},{"d":"2023-12-10","v":41},{"d":"2023-12-13","v":42.7},{"d":"2023-12-16","v":41.3},{"d":"2023-12-19","v":43.9},{"d":"2023-12-24","v":43.3},{"d":"2023-12-29","v":42},{"d":"2024-01-02","v":44.8},{"d":"2024-01-04","v":43},{"d":"2024-01-08","v":46.8},{"d":"2024-01-11","v":46.2},{"d":"2024-01-13","v":42},{"d":"2024-01-17","v":41.5},{"d":"2024-01-20","v":41.4},{"d":"2024-01-22","v":39.5},{"d":"2024-01-25","v":41},{"d":"2024-01-29","v":43.3},{"d":"2024-02-02","v":42.7},{"d":"2024-02-05","v":43.6},{"d":"2024-02-08","v":47},{"d":"2024-02-11","v":49.7},{"d":"2024-02-14","v":51.9},{"d":"2024-02-19","v":52.2},{"d":"2024-02-22","v":50.7},{"d":"2024-02-25","v":54.5},{"d":"2024-02-27","v":60.9},{"d":"2024-03-02","v":62.3},{"d":"2024-03-03","v":67.8},{"d":"2024-03-05","v":63.9},{"d":"2024-03-08","v":68.9},{"d":"2024-03-12","v":72},{"d":"2024-03-15","v":67.8},{"d":"2024-03-18","v":62},{"d":"2024-03-22","v":63.7},{"d":"2024-03-24","v":69.7},{"d":"2024-03-29","v":71},{"d":"2024-04-01","v":65},{"d":"2024-04-04","v":68},{"d":"2024-04-07","v":71.3},{"d":"2024-04-10","v":69.7},{"d":"2024-04-13","v":63.7},{"d":"2024-04-17","v":61.5},{"d":"2024-04-22","v":66.6},{"d":"2024-04-25","v":64},{"d":"2024-04-28","v":63.1},{"d":"2024-05-01","v":58},{"d":"2024-05-04","v":63.9},{"d":"2024-05-08","v":60.7},{"d":"2024-05-12","v":61.7},{"d":"2024-05-15","v":66.2},{"d":"2024-05-19","v":71},{"d":"2024-05-23","v":67.5},{"d":"2024-05-30","v":67.5},{"d":"2024-06-04","v":70.8},{"d":"2024-06-09","v":67.8},{"d":"2024-06-14","v":65.8},{"d":"2024-06-20","v":63.9},{"d":"2024-06-22","v":60.3},{"d":"2024-06-26","v":60.5},{"d":"2024-06-30","v":62.2},{"d":"2024-07-05","v":56.9},{"d":"2024-07-07","v":55.6},{"d":"2024-07-11","v":59.2},{"d":"2024-07-15","v":64.8},{"d":"2024-07-20","v":67.7},{"d":"2024-07-23","v":65.3},{"d":"2024-07-26","v":68.2},{"d":"2024-07-31","v":64.8},{"d":"2024-08-02","v":61},{"d":"2024-08-05","v":54.2},{"d":"2024-08-08","v":61.4},{"d":"2024-08-12","v":58.6},{"d":"2024-08-17","v":59.2},{"d":"2024-08-21","v":60.7},{"d":"2024-08-24","v":64},{"d":"2024-08-28","v":59},{"d":"2024-09-02","v":57.7},{"d":"2024-09-05","v":54.2},{"d":"2024-09-10","v":57.6},{"d":"2024-09-14","v":60.6},{"d":"2024-09-16","v":58.2},{"d":"2024-09-19","v":63},{"d":"2024-09-23","v":63.4},{"d":"2024-09-28","v":65.8},{"d":"2024-10-02","v":60.7},{"d":"2024-10-05","v":62.7},{"d":"2024-10-09","v":60},{"d":"2024-10-13","v":67},{"d":"2024-10-18","v":68.9},{"d":"2024-10-24","v":66.7},{"d":"2024-10-28","v":70.8},{"d":"2024-11-04","v":67.8},{"d":"2024-11-09","v":85},{"d":"2024-11-13","v":90},{"d":"2024-11-18","v":96},{"d":"2024-11-22","v":92},{"d":"2024-11-27","v":95.5},{"d":"2024-12-04","v":98},{"d":"2024-12-10","v":101},{"d":"2024-12-14","v":105},{"d":"2024-12-21","v":99},{"d":"2024-12-27","v":95},{"d":"2025-01-05","v":98},{"d":"2025-01-11","v":94.5},{"d":"2025-01-13","v":97},{"d":"2025-01-16","v":104},{"d":"2025-01-19","v":101.5},{"d":"2025-01-21","v":106},{"d":"2025-01-24","v":102},{"d":"2025-01-26","v":104.5},{"d":"2025-01-29","v":104},{"d":"2025-02-02","v":97.9},{"d":"2025-02-05","v":96.6},{"d":"2025-02-11","v":97.6},{"d":"2025-02-15","v":96.2},{"d":"2025-02-20","v":98.3},{"d":"2025-02-23","v":94},{"d":"2025-02-26","v":84.4},{"d":"2025-02-27","v":84.8},{"d":"2025-03-01","v":94},{"d":"2025-03-03","v":86},{"d":"2025-03-04","v":90},{"d":"2025-03-08","v":78.3},{"d":"2025-03-10","v":83.7},{"d":"2025-03-14","v":84},{"d":"2025-03-17","v":86.3},{"d":"2025-03-20","v":85.2},{"d":"2025-03-23","v":87.5},{"d":"2025-03-27","v":82.3},{"d":"2025-03-30","v":82.3},{"d":"2025-04-03","v":83.5},{"d":"2025-04-07","v":76},{"d":"2025-04-11","v":85.2},{"d":"2025-04-15","v":84.7},{"d":"2025-04-19","v":87.5},{"d":"2025-04-21","v":93.3},{"d":"2025-04-26","v":94.5},{"d":"2025-04-30","v":96.6},{"d":"2025-05-04","v":94.3},{"d":"2025-05-07","v":104.5},{"d":"2025-05-11","v":103.6},{"d":"2025-05-15","v":106.4},{"d":"2025-05-20","v":111.3},{"d":"2025-05-23","v":108},{"d":"2025-05-25","v":109.2},{"d":"2025-05-28","v":104.2},{"d":"2025-06-01","v":105.4},{"d":"2025-06-04","v":101.5},{"d":"2025-06-08","v":110},{"d":"2025-06-12","v":105.4},{"d":"2025-06-17","v":103.8},{"d":"2025-06-21","v":101},{"d":"2025-06-23","v":106.4},{"d":"2025-06-29","v":108},{"d":"2025-07-01","v":109},{"d":"2025-07-05","v":108.7},{"d":"2025-07-08","v":117},{"d":"2025-07-12","v":119.5},{"d":"2025-07-16","v":117.9},{"d":"2025-07-20","v":119.5},{"d":"2025-07-25","v":117.9},{"d":"2025-07-29","v":112.7},{"d":"2025-08-02","v":114.9},{"d":"2025-08-07","v":117},{"d":"2025-08-11","v":122.7},{"d":"2025-08-13","v":117.8},{"d":"2025-08-19","v":113.3},{"d":"2025-08-21","v":116.8},{"d":"2025-08-24","v":110.9},{"d":"2025-08-28","v":108.7},{"d":"2025-09-02","v":111.2},{"d":"2025-09-05","v":110.4},{"d":"2025-09-09","v":114.5},{"d":"2025-09-13","v":116.4},{"d":"2025-09-17","v":117.2},{"d":"2025-09-22","v":113},{"d":"2025-09-25","v":109.4},{"d":"2025-09-29","v":115.2},{"d":"2025-10-02","v":122},{"d":"2025-10-05","v":124.7},{"d":"2025-10-08","v":123},{"d":"2025-10-10","v":111},{"d":"2025-10-13","v":114.3},{"d":"2025-10-17","v":106.8},{"d":"2025-10-21","v":109.4},{"d":"2025-10-26","v":114.5},{"d":"2025-10-29","v":108.9},{"d":"2025-11-02","v":110.4},{"d":"2025-11-05","v":101.5},{"d":"2025-11-09","v":105.5},{"d":"2025-11-13","v":99},{"d":"2025-11-14","v":95},{"d":"2025-11-17","v":91.7},{"d":"2025-11-19","v":85.6},{"d":"2025-11-22","v":84.4},{"d":"2025-11-24","v":87.7},{"d":"2025-11-27","v":91},{"d":"2025-11-30","v":85.7},{"d":"2025-12-03","v":93},{"d":"2025-12-05","v":89},{"d":"2025-12-09","v":92.4},{"d":"2025-12-13","v":89},{"d":"2025-12-17","v":85.6},{"d":"2025-12-19","v":88.7},{"d":"2025-12-25","v":87.2},{"d":"2025-12-29","v":88.1},{"d":"2026-01-02","v":91.5},{"d":"2026-01-05","v":93.9},{"d":"2026-01-09","v":90.7},{"d":"2026-01-13","v":96.6},{"d":"2026-01-17","v":95.4},{"d":"2026-01-20","v":88.7},{"d":"2026-01-24","v":89},{"d":"2026-01-26","v":86.3},{"d":"2026-01-29","v":84},{"d":"2026-02-01","v":78.3},{"d":"2026-02-03","v":75.5},{"d":"2026-02-05","v":62.9},{"d":"2026-02-06","v":70},{"d":"2026-02-09","v":69},{"d":"2026-02-12","v":66.4},{"d":"2026-02-15","v":69.5},{"d":"2026-02-19","v":66.4},{"d":"2026-02-23","v":67.8},{"d":"2026-02-25","v":64.4},{"d":"2026-03-01","v":68.7},{"d":"2026-03-02","v":72.2},{"d":"2026-03-06","v":66},{"d":"2026-03-08","v":69.7},{"d":"2026-03-15","v":74},{"d":"2026-03-17","v":69.7},{"d":"2026-03-23","v":70.5},{"d":"2026-03-26","v":66.5},{"d":"2026-03-30","v":67},{"d":"2026-04-03","v":70},{"d":"2026-04-06","v":72.5},{"d":"2026-04-10","v":70.5},{"d":"2026-04-13","v":74.4},{"d":"2026-04-18","v":75.9},{"d":"2026-04-21","v":77.4},{"d":"2026-04-24","v":78.3},{"d":"2026-04-27","v":75.9},{"d":"2026-05-03","v":80.3},{"d":"2026-05-08","v":82},{"d":"2026-05-12","v":78.3},{"d":"2026-05-15","v":77.1},{"d":"2026-05-22","v":75.9},{"d":"2026-05-27","v":73.3},{"d":"2026-05-30","v":68.7},{"d":"2026-06-02","v":64},{"d":"2026-06-04","v":60.7},{"d":"2026-06-08","v":62.3},{"d":"2026-06-13","v":66},{"d":"2026-06-16","v":63.3},{"d":"2026-06-20","v":63.7},{"d":"2026-06-23","v":59.5},{"d":"2026-06-28","v":58.4},{"d":"2026-07-02","v":63},{"d":"2026-07-05","v":63.7},{"d":"2026-07-08","v":62.7},{"d":"2026-07-12","v":65},{"d":"2026-07-19","v":66.4},{"d":"2026-07-23","v":64.4},{"d":"2026-07-27","v":63},{"d":"2026-08-01","v":64.4},{"d":"2026-08-07","v":64.8},{"d":"2026-08-11","v":63.3},{"d":"2026-08-14","v":63},{"d":"2026-08-17","v":73.3},{"d":"2026-08-19","v":78},{"d":"2026-08-23","v":77.32}],
"boxes":[{"d":"2022-06-07","d2":"2022-11-25","a":324.8,"b":264.5},{"d":"2026-03-27","d2":"2026-08-26","a":562.3,"b":504.3}],
"ovalFill":[{"k":"a","d":"2022-09-30","hi":524.9,"lo":507.3},{"k":"a","d":"2022-10-03","hi":539.7,"lo":488.4},{"k":"a","d":"2022-10-08","hi":546.5,"lo":470.8},{"k":"a","d":"2022-10-13","hi":548,"lo":461},{"k":"a","d":"2022-10-16","hi":547,"lo":456},{"k":"a","d":"2022-10-23","hi":543.8,"lo":450},{"k":"a","d":"2022-10-25","hi":541,"lo":447.2},{"k":"a","d":"2022-11-02","hi":529,"lo":445.2},{"k":"a","d":"2022-11-09","hi":511.4,"lo":451.5},{"k":"a","d":"2022-11-13","hi":493.8,"lo":462},{"k":"a","d":"2022-11-14","hi":477.6,"lo":477.6},{"k":"b","d":"2026-07-27","hi":625,"lo":611.6},{"k":"b","d":"2026-08-01","hi":637.2,"lo":596.7},{"k":"b","d":"2026-08-05","hi":642,"lo":587},{"k":"b","d":"2026-08-09","hi":642.9,"lo":580},{"k":"b","d":"2026-08-16","hi":640,"lo":571},{"k":"b","d":"2026-08-19","hi":637.2,"lo":569},{"k":"b","d":"2026-08-24","hi":630,"lo":567.7},{"k":"b","d":"2026-08-26","hi":627.8,"lo":568},{"k":"b","d":"2026-08-31","hi":616,"lo":571},{"k":"b","d":"2026-09-02","hi":614.3,"lo":573},{"k":"b","d":"2026-09-04","hi":605,"lo":586},{"k":"b","d":"2026-09-05","hi":599.5,"lo":599.5}],
"ovalLine":[{"k":"a","i":1,"d":"2022-10-13","v":548},{"k":"a","i":2,"d":"2022-10-23","v":543.8},{"k":"a","i":3,"d":"2022-11-02","v":529},{"k":"a","i":4,"d":"2022-11-09","v":511.4},{"k":"a","i":5,"d":"2022-11-13","v":493.8},{"k":"a","i":6,"d":"2022-11-14","v":477.6},{"k":"a","i":7,"d":"2022-11-12","v":461.4},{"k":"a","i":8,"d":"2022-11-08","v":450.6},{"k":"a","i":9,"d":"2022-11-02","v":445.2},{"k":"a","i":10,"d":"2022-10-25","v":447.2},{"k":"a","i":11,"d":"2022-10-16","v":456},{"k":"a","i":12,"d":"2022-10-08","v":470.8},{"k":"a","i":13,"d":"2022-10-03","v":488.4},{"k":"a","i":14,"d":"2022-09-30","v":507.3},{"k":"a","i":15,"d":"2022-09-30","v":524.9},{"k":"a","i":16,"d":"2022-10-03","v":539.7},{"k":"a","i":17,"d":"2022-10-08","v":546.5},{"k":"a","i":18,"d":"2022-10-13","v":548},{"k":"b","i":1,"d":"2026-08-09","v":642.9},{"k":"b","i":2,"d":"2026-08-19","v":637.2},{"k":"b","i":3,"d":"2026-08-26","v":627.8},{"k":"b","i":4,"d":"2026-09-02","v":614.3},{"k":"b","i":5,"d":"2026-09-05","v":599.5},{"k":"b","i":6,"d":"2026-09-04","v":586},{"k":"b","i":7,"d":"2026-08-31","v":572.4},{"k":"b","i":8,"d":"2026-08-24","v":567.7},{"k":"b","i":9,"d":"2026-08-16","v":571},{"k":"b","i":10,"d":"2026-08-07","v":581.9},{"k":"b","i":11,"d":"2026-08-01","v":596.7},{"k":"b","i":12,"d":"2026-07-27","v":611.6},{"k":"b","i":13,"d":"2026-07-27","v":625},{"k":"b","i":14,"d":"2026-08-01","v":637.2},{"k":"b","i":15,"d":"2026-08-05","v":642.7},{"k":"b","i":16,"d":"2026-08-09","v":642.9}],
"shafts":[{"k":"a","d":"2022-02-15","v":256.4},{"k":"a","d":"2022-09-09","v":459.2},{"k":"b","d":"2026-01-11","v":451.9},{"k":"b","d":"2026-05-07","v":644.3}]
},
"encoding":{"x":{"field":"d","type":"temporal","scale":{"domain":["2021-07-11","2026-08-28"]},"axis":{"title":null,"grid":false,"tickCount":{"interval":"year","step":1},"format":"%Y","labelFont":"Open Sans","labelFontSize":20,"labelColor":"#9aa0a8","labelPadding":3,"tickColor":"#3a4350","tickSize":5,"domainColor":"#3a4350","domainWidth":1.5,"labelFlush":false,"labelBound":false}}},
"layer":[
{"data":{"values":[{"d":"2023-06-03","v":436}]},"mark":{"type":"point","filled":true,"shape":"M-.49,-.99L-.12,-.99L.62,1L.33,.92L.16,.65Z M-.32,0C-.7,.1 -.95,.6 -1.07,1L-.83,1C-.7,.8 -.6,.5 -.39,.38L-.05,.29L-.18,0Z M-.49,-.99L-.9,.27L-.32,-.5Z M-.12,-.99L.39,-.99C.8,-.95 1.07,-.75 1.07,-.4C1.07,-.1 .7,.1 .39,.19L.29,-.11C.55,-.2 .73,-.3 .73,-.42C.73,-.6 .5,-.72 -.01,-.77Z","size":32400,"color":"#1e2530","opacity":1,"strokeWidth":0},"encoding":{"y":{"field":"v","type":"quantitative","scale":{"domain":[174.27,696.9]},"axis":null}}},
{"data":{"values":[{"d":"2024-04-22","v":412.2,"t":"Alphractal"}]},"mark":{"type":"text","font":"Open Sans","fontSize":148,"color":"#252d38","align":"center","baseline":"alphabetic"},"encoding":{"y":{"field":"v","type":"quantitative","scale":{"domain":[174.27,696.9]},"axis":null},"text":{"field":"t"}}},
{"data":{"name":"boxes"},"mark":{"type":"rect","fill":"#0a2023"},"encoding":{"x2":{"field":"d2"},"y":{"field":"a","type":"quantitative","scale":{"domain":[174.27,696.9]},"axis":null},"y2":{"field":"b"}}},
{"data":{"name":"ovalFill"},"mark":{"type":"area","fill":"#0a2023","interpolate":"monotone"},"encoding":{"detail":{"field":"k"},"y":{"field":"hi","type":"quantitative","scale":{"domain":[174.27,696.9]},"axis":null},"y2":{"field":"lo"}}},
{"data":{"name":"oi"},"mark":{"type":"line","strokeWidth":3,"strokeJoin":"miter"},"encoding":{"y":{"field":"v","type":"quantitative","scale":{"domain":[174.27,696.9]},"axis":{"orient":"left","title":null,"grid":false,"values":[174.27,200,300,400,500,600,696.9],"labelExpr":"datum.value+'K'","labelFont":"Open Sans","labelFontSize":22,"labelColor":"#8f959d","labelPadding":8,"ticks":false,"domainColor":"#f7931a","domainWidth":2,"labelOverlap":false,"labelBound":false,"labelFlush":false}},"color":{"datum":"Open Interest - All Exchanges [Coin]","scale":{"domain":["Open Interest - All Exchanges [Coin]","Price"],"range":["#f7931a","#ffffff"]},"legend":{"orient":"none","legendX":1081,"legendY":-60,"direction":"horizontal","columns":2,"title":null,"symbolType":"M-1,0L1,0M.25,0A.25,.25 0 1 1 -.25,0A.25,.25 0 1 1 .25,0","symbolSize":625,"symbolStrokeWidth":3,"labelFont":"Open Sans","labelFontSize":25,"labelColor":"#aeb3bb","labelOffset":4,"columnPadding":4,"labelLimit":600}}}},
{"data":{"name":"price"},"mark":{"type":"line","strokeWidth":3,"strokeJoin":"miter"},"encoding":{"y":{"field":"v","type":"quantitative","scale":{"type":"log","domain":[12.008,146.675]},"axis":{"orient":"right","title":null,"grid":false,"values":[12.008,100,146.675],"labelExpr":"'$'+datum.value+'K'","labelFont":"Open Sans","labelFontSize":22,"labelColor":"#8f959d","labelPadding":8,"ticks":false,"domainColor":"#ffffff","domainWidth":2.5,"labelOverlap":false,"labelBound":false,"labelFlush":false}},"color":{"datum":"Price"}}},
{"data":{"name":"boxes"},"mark":{"type":"rect","fill":null,"stroke":"#e8112d","strokeWidth":6,"strokeDash":[6,6]},"encoding":{"x2":{"field":"d2"},"y":{"field":"a","type":"quantitative","scale":{"domain":[174.27,696.9]},"axis":null},"y2":{"field":"b"}}},
{"data":{"name":"ovalLine"},"mark":{"type":"line","stroke":"#00c96f","strokeWidth":4.5,"strokeDash":[1,9],"strokeCap":"round","interpolate":"monotone"},"encoding":{"detail":{"field":"k"},"order":{"field":"i"},"y":{"field":"v","type":"quantitative","scale":{"domain":[174.27,696.9]},"axis":null}}},
{"data":{"name":"shafts"},"mark":{"type":"line","stroke":"#00c96f","strokeWidth":6,"strokeCap":"round"},"encoding":{"detail":{"field":"k"},"y":{"field":"v","type":"quantitative","scale":{"domain":[174.27,696.9]},"axis":null}}},
{"data":{"values":[{"d":"2022-09-16","v":466}]},"mark":{"type":"point","filled":true,"shape":"M0,-1L.68,1L-.68,1Z","size":1681,"angle":30,"color":"#00c96f","opacity":1,"strokeWidth":0},"encoding":{"y":{"field":"v","type":"quantitative","scale":{"domain":[174.27,696.9]},"axis":null}}},
{"data":{"values":[{"d":"2026-05-11","v":651.9}]},"mark":{"type":"point","filled":true,"shape":"M0,-1L.68,1L-.68,1Z","size":1681,"angle":18,"color":"#00c96f","opacity":1,"strokeWidth":0},"encoding":{"y":{"field":"v","type":"quantitative","scale":{"domain":[174.27,696.9]},"axis":null}}},
{"data":{"values":[{"d":"2023-01-07","v":739.4}]},"mark":{"type":"point","filled":true,"shape":"circle","size":1963,"color":"#f7931a","opacity":1,"strokeWidth":0},"encoding":{"y":{"field":"v","type":"quantitative","scale":{"domain":[174.27,696.9]},"axis":null}}},
{"data":{"values":[{"d":"2023-01-07","v":739.4,"t":"₿"}]},"mark":{"type":"text","font":"DejaVu Sans","fontWeight":"bold","fontSize":32,"angle":14,"color":"#ffffff","align":"center","baseline":"middle"},"encoding":{"y":{"field":"v","type":"quantitative","scale":{"domain":[174.27,696.9]},"axis":null},"text":{"field":"t"}}},
{"data":{"values":[{"d":"2026-09-20","v":735,"t":"2026-08-23"}]},"mark":{"type":"text","font":"Liberation Sans","fontWeight":"bold","fontSize":18,"color":"#ffffff","align":"center","baseline":"middle"},"encoding":{"y":{"field":"v","type":"quantitative","scale":{"domain":[174.27,696.9]},"axis":null},"text":{"field":"t"}}},
{"data":{"values":[{"d":"2021-06-08","v":143.3,"t":"Alphractal.com"}]},"mark":{"type":"text","font":"Liberation Sans","fontSize":24,"color":"#8a9099","align":"left","baseline":"middle"},"encoding":{"y":{"field":"v","type":"quantitative","scale":{"domain":[174.27,696.9]},"axis":null},"text":{"field":"t"}}},
{"data":{"values":[{"d":"2026-10-13","v":143.3,"t":"© 2026 Alphractal. All Rights Reserved."}]},"mark":{"type":"text","font":"Liberation Sans","fontSize":24,"color":"#8a9099","align":"right","baseline":"middle"},"encoding":{"y":{"field":"v","type":"quantitative","scale":{"domain":[174.27,696.9]},"axis":null},"text":{"field":"t"}}},
{"data":{"values":[{"d":"2026-11-05","v":134.3,"t":"@ Joao Wedson"}]},"mark":{"type":"text","font":"Open Sans","fontSize":24,"color":"#a8adb5","align":"right","baseline":"middle"},"encoding":{"y":{"field":"v","type":"quantitative","scale":{"domain":[174.27,696.9]},"axis":null},"text":{"field":"t"}}},
{"data":{"values":[{"d":"2026-06-24","v":134.3}]},"mark":{"type":"point","filled":true,"shape":"M0,-.25L.25,0L0,.25L-.25,0Z M-.75,0L-.5,-.25L-.25,0L-.5,.25Z M.75,0L.5,-.25L.25,0L.5,.25Z M0,-1L.55,-.45L.35,-.25L0,-.6L-.35,-.25L-.55,-.45Z M0,1L.55,.45L.35,.25L0,.6L-.35,.25L-.55,.45Z","size":800,"color":"#b8bcc2","opacity":1,"strokeWidth":0},"encoding":{"y":{"field":"v","type":"quantitative","scale":{"domain":[174.27,696.9]},"axis":null}}},
{"data":{"values":[{"d":"2021-05-13","d2":"2021-07-27","a":577.3,"b":563.9}]},"mark":{"type":"rect","fill":"#f7931a","cornerRadius":2},"encoding":{"x2":{"field":"d2"},"y":{"field":"a","type":"quantitative","scale":{"domain":[174.27,696.9]},"axis":null},"y2":{"field":"b"}}},
{"data":{"values":[{"d":"2021-06-20","v":570.6,"t":"571.62K"}]},"mark":{"type":"text","font":"Liberation Sans","fontWeight":"bold","fontSize":20,"color":"#ffffff","align":"center","baseline":"middle"},"encoding":{"y":{"field":"v","type":"quantitative","scale":{"domain":[174.27,696.9]},"axis":null},"text":{"field":"t"}}},
{"data":{"values":[{"d":"2026-08-27","d2":"2026-11-10","a":79.6,"b":74.8}]},"mark":{"type":"rect","fill":"#ffffff","cornerRadius":2},"encoding":{"x2":{"field":"d2"},"y":{"field":"a","type":"quantitative","scale":{"type":"log","domain":[12.008,146.675]},"axis":null},"y2":{"field":"b"}}},
{"data":{"values":[{"d":"2026-10-05","v":77.2,"t":"$77.32K"}]},"mark":{"type":"text","font":"Liberation Sans","fontWeight":"bold","fontSize":21,"color":"#0b1220","align":"center","baseline":"middle"},"encoding":{"y":{"field":"v","type":"quantitative","scale":{"type":"log","domain":[12.008,146.675]},"axis":null},"text":{"field":"t"}}}
],
"resolve":{"scale":{"y":"independent"},"axis":{"y":"independent"}}
}
